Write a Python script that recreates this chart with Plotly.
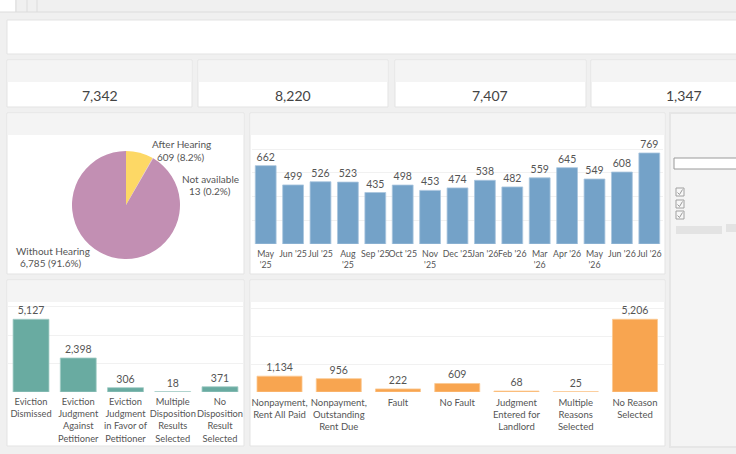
import plotly.graph_objects as go

W, H = 736, 454

# ---------------- data ----------------
kpi_values = ["7,342", "8,220", "7,407", "1,347"]

pie_labels = ["After Hearing", "Not available", "Without Hearing"]
pie_values = [609, 13, 6785]
pie_text = ["609 (8.2%)", "13 (0.2%)", "6,785 (91.6%)"]

months = ["May<br>'25", "Jun '25", "Jul '25", "Aug<br>'25", "Sep '25", "Oct '25",
          "Nov<br>'25", "Dec '25", "Jan '26", "Feb '26", "Mar<br>'26", "Apr '26",
          "May<br>'26", "Jun '26", "Jul '26"]
month_values = [662, 499, 526, 523, 435, 498, 453, 474, 538, 482, 559, 645, 549, 608, 769]

dispositions = ["Eviction<br>Dismissed", "Eviction<br>Judgment<br>Against<br>Petitioner",
                "Eviction<br>Judgment<br>in Favor of<br>Petitioner",
                "Multiple<br>Disposition<br>Results<br>Selected",
                "No<br>Disposition<br>Result<br>Selected"]
disposition_values = [5127, 2398, 306, 18, 371]

reasons = ["Nonpayment,<br>Rent All Paid", "Nonpayment,<br>Outstanding<br>Rent Due", "Fault",
           "No Fault", "Judgment<br>Entered for<br>Landlord", "Multiple<br>Reasons<br>Selected",
           "No Reason<br>Selected"]
reason_values = [1134, 956, 222, 609, 68, 25, 5206]

# ---------------- helpers ----------------
def px(x):
    return x / W

def py(y):
    return 1 - y / H

FONT = "Lato"
TXT = "#555555"
BORDER = "#e3e3e3"
HEAD = "#f4f4f4"

shapes = []
annotations = []

def rect(x0, y0, x1, y1, fill, line=None, lw=1):
    shapes.append(dict(type="rect", xref="paper", yref="paper",
                       x0=px(x0), x1=px(x1), y0=py(y1), y1=py(y0),
                       fillcolor=fill, line=dict(color=line or fill, width=lw if line else 0),
                       layer="below"))

def panel(x0, y0, x1, y1, head_h=22):
    rect(x0, y0, x1, y1, "white", BORDER, 1)
    rect(x0 + 0.5, y0 + 0.5, x1 - 0.5, y0 + head_h, HEAD)

def text(x, y, s, size=10, color=TXT, xanchor="center"):
    annotations.append(dict(x=px(x), y=py(y), xref="paper", yref="paper", text=s,
                            showarrow=False, xanchor=xanchor, yanchor="middle",
                            font=dict(family=FONT, size=size, color=color)))

# top tab strip
rect(0, 0, W, 12, "#f0f0f0")
rect(0, 0, 15, 12, "white")
for xv in [16, 27, 37]:
    shapes.append(dict(type="line", xref="paper", yref="paper", x0=px(xv), x1=px(xv),
                       y0=py(12), y1=py(0), line=dict(color="#dcdcdc", width=1), layer="below"))
shapes.append(dict(type="line", xref="paper", yref="paper", x0=0, x1=1, y0=py(12), y1=py(12),
                   line=dict(color="#dcdcdc", width=1), layer="below"))

# title box
rect(7, 20, W + 2, 54, "white", BORDER, 1)

# KPI boxes
kpi_boxes = [(7, 192), (198, 388), (395, 586), (591, W + 2)]
kpi_centers = [100, 293, 490, 684]
for (x0, x1), cx, v in zip(kpi_boxes, kpi_centers, kpi_values):
    panel(x0, 60, x1, 107, head_h=22)
    text(cx, 96, v, size=14, color="#444444")

# chart panels
panel(7, 113, 244, 274)
panel(250, 113, 665, 274)
panel(7, 280, 244, 446)
panel(250, 280, 665, 446)

# right filter panel
rect(670, 113, W + 2, 447, "#f4f4f4", "#e6e6e6", 2)
rect(674, 158, W + 2, 169, "white", "#9a9a9a", 1)
for yv in [188, 200, 211]:
    rect(676, yv, 684, yv + 8, "#f7f7f7", "#a0a0a0", 1)
    shapes.append(dict(type="path", xref="paper", yref="paper",
                       path=f"M {px(677.5)} {py(yv+4.5)} L {px(679.5)} {py(yv+6.5)} L {px(682.5)} {py(yv+1.5)}",
                       line=dict(color="#9a9a9a", width=1), layer="below"))
rect(676, 226, 722, 234, "#e3e3e3")
rect(726, 224, W + 2, 232, "#e3e3e3")

# pie labels
text(181, 144, "After Hearing")
text(181, 157, "609 (8.2%)")
text(210, 179, "Not available")
text(210, 191, "13 (0.2%)")
text(53, 251, "Without Hearing")
text(50, 263, "6,785 (91.6%)")

fig = go.Figure()

fig.add_trace(go.Pie(labels=pie_labels, values=pie_values, sort=False, direction="clockwise",
                     rotation=0, textinfo="none", hoverinfo="label+value",
                     marker=dict(colors=["#fdd865", "#d9b8cf", "#c28fb3"], line=dict(width=0)),
                     domain=dict(x=[px(72), px(180)], y=[py(259), py(151)]),
                     showlegend=False))

bar_font = dict(family=FONT, size=10.5, color=TXT)

fig.add_trace(go.Bar(x=months, y=month_values, marker=dict(color="#74a2c8",
                     line=dict(color="#a9c5de", width=0.8)),
                     text=[f"{v:,}" for v in month_values], textposition="outside",
                     textfont=bar_font, cliponaxis=False, xaxis="x", yaxis="y",
                     showlegend=False))
fig.add_trace(go.Bar(x=dispositions, y=disposition_values, marker=dict(color="#69aba1",
                     line=dict(color="#a3cdc6", width=0.8)),
                     text=[f"{v:,}" for v in disposition_values], textposition="outside",
                     textfont=bar_font, cliponaxis=False, xaxis="x2", yaxis="y2",
                     showlegend=False))
fig.add_trace(go.Bar(x=reasons, y=reason_values, marker=dict(color="#f8a550",
                     line=dict(color="#fbc993", width=0.8)),
                     text=[f"{v:,}" for v in reason_values], textposition="outside",
                     textfont=bar_font, cliponaxis=False, xaxis="x3", yaxis="y3",
                     showlegend=False))

def xax(x0, x1, anchor, size=9.5):
    return dict(domain=[px(x0), px(x1)], anchor=anchor, showgrid=False, zeroline=False,
                showline=False, ticks="", tickangle=0, fixedrange=True, ticklabelstandoff=3,
                tickfont=dict(family=FONT, size=size, color=TXT))

def yax(y0, y1, rng, dtick, anchor):
    return dict(domain=[py(y1), py(y0)], anchor=anchor, range=[0, rng], dtick=dtick,
                showticklabels=False, showgrid=True, gridcolor="#f1f1f1", gridwidth=1,
                zeroline=False, showline=False, fixedrange=True)

fig.update_layout(
    width=W, height=H, margin=dict(l=0, r=0, t=0, b=0),
    paper_bgcolor="#f0f0f0", plot_bgcolor="rgba(0,0,0,0)",
    bargap=0.24, shapes=shapes, annotations=annotations,
    font=dict(family=FONT, color=TXT),
    xaxis=xax(252, 663, "y", size=8.8), yaxis=yax(137, 244, 904, 200, "x"),
    xaxis2=xax(7.4, 243.6, "y2", size=9.3), yaxis2=yax(303, 392, 6276, 2000, "x2"),
    xaxis3=xax(249.9, 664.6, "y3"), yaxis3=yax(303, 392, 6371, 2000, "x3"),
)

fig.write_html("out.html", config={"displayModeBar": False},
               post_script="document.body.style.margin='0';document.body.style.background='#f0f0f0';")
